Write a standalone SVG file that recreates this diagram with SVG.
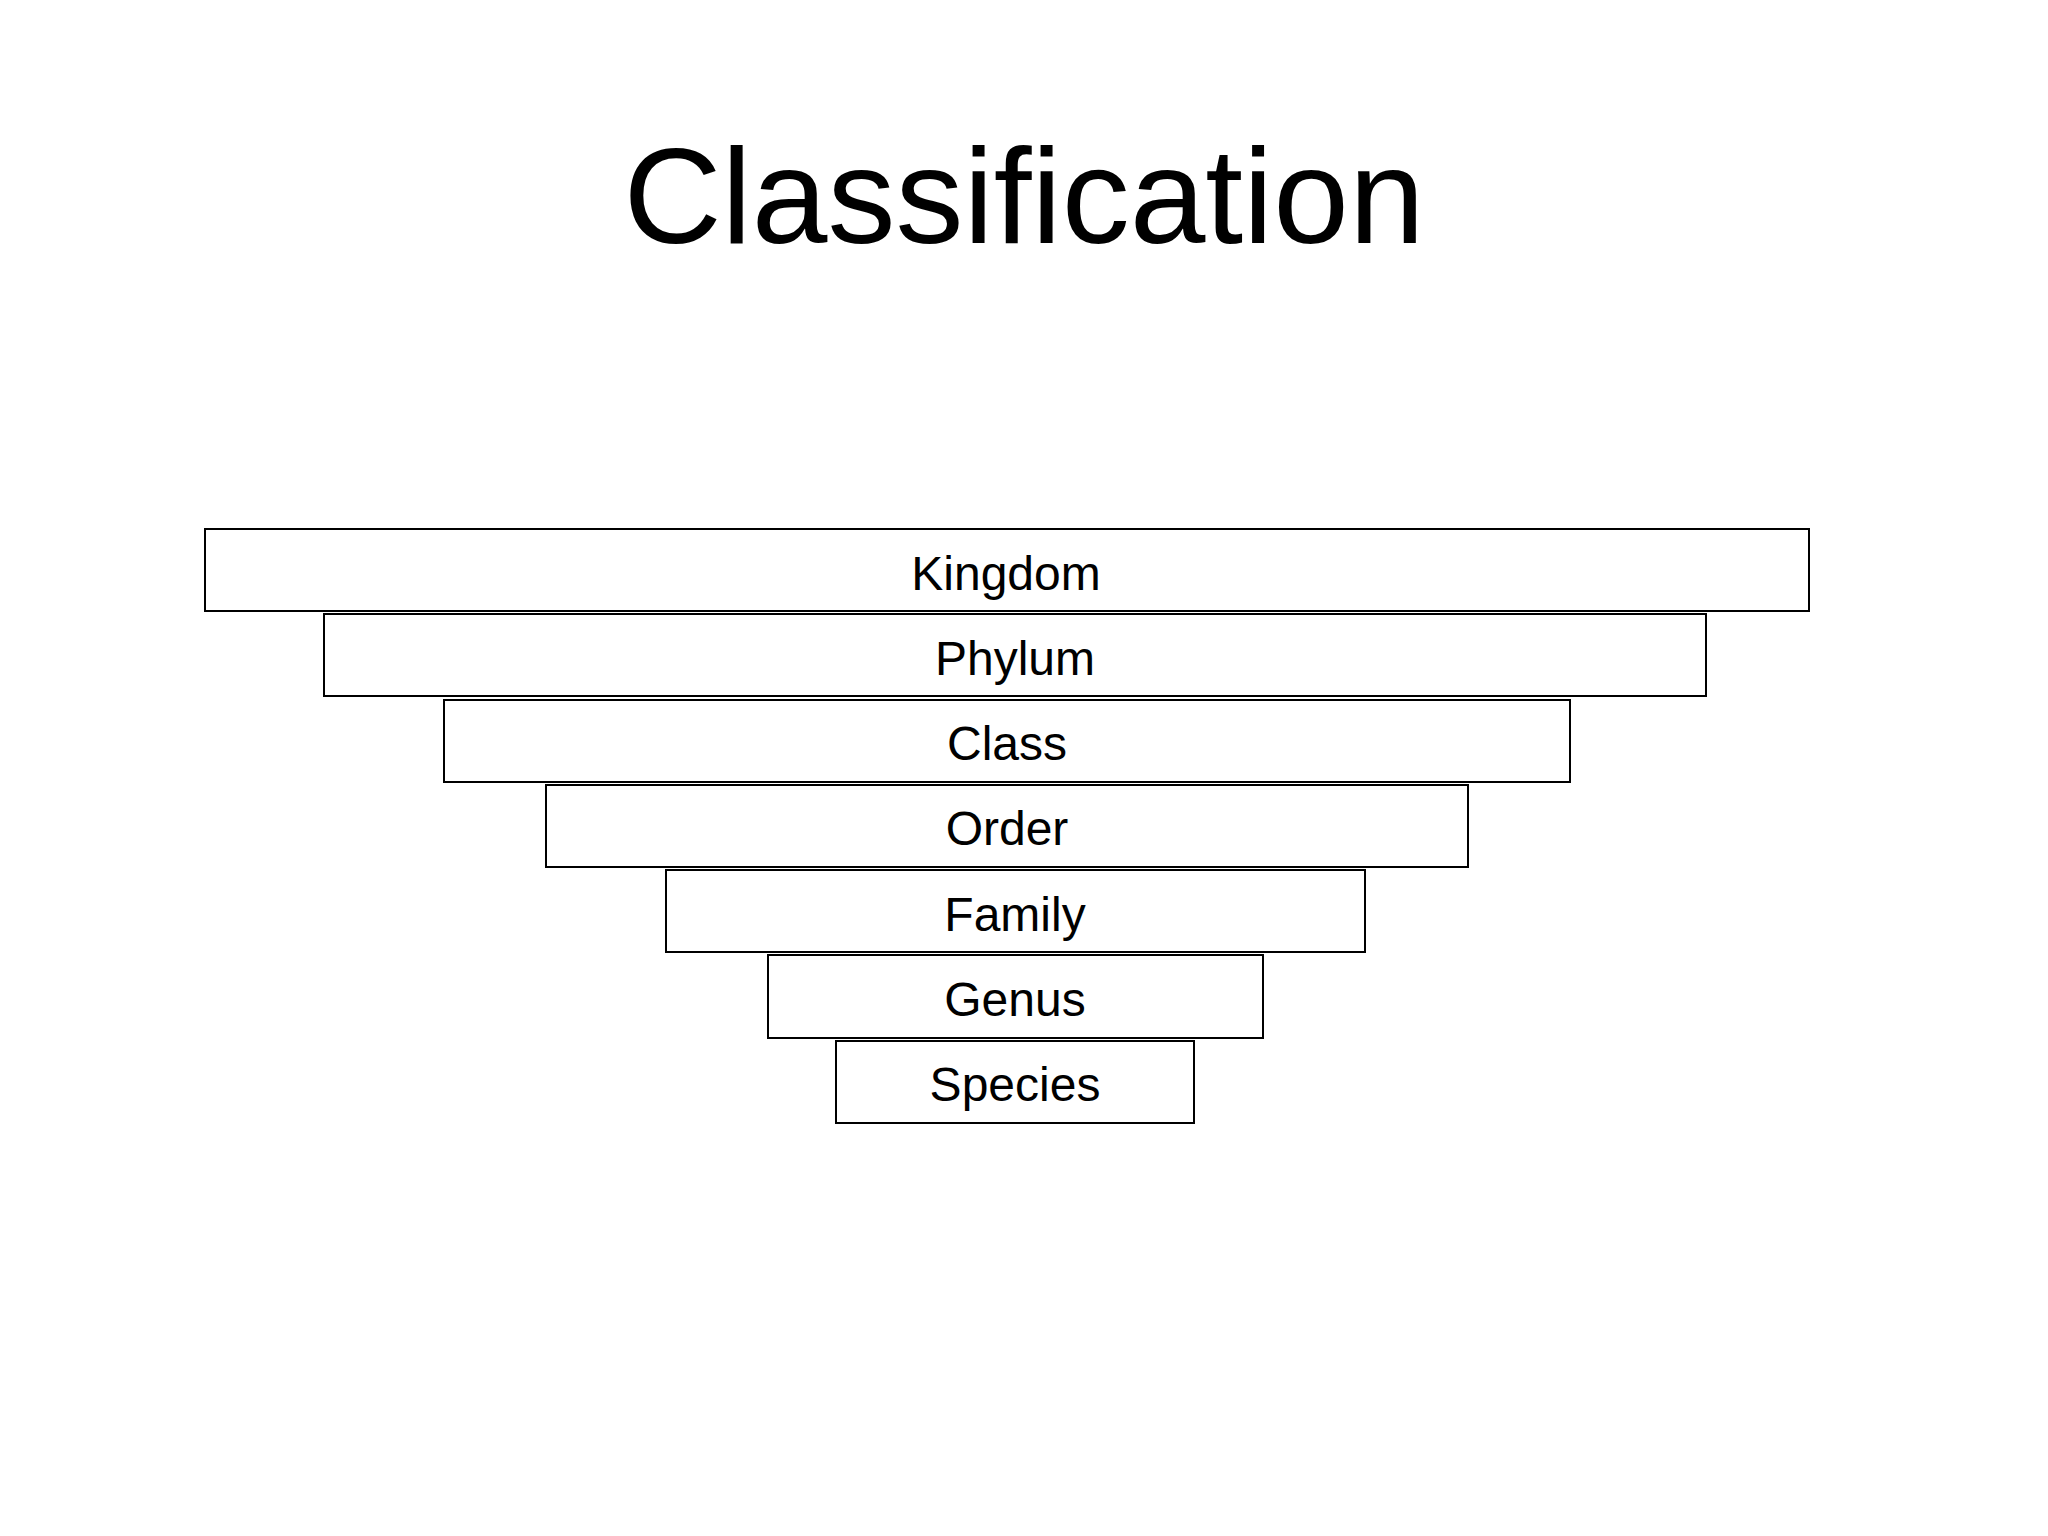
<svg xmlns="http://www.w3.org/2000/svg" width="2048" height="1536" viewBox="0 0 2048 1536">
<style>
rect{fill:#fff;stroke:#000;stroke-width:2}
text{font-family:"Liberation Sans",Arial,sans-serif;text-anchor:middle;fill:#000}
.l{font-size:48px}
</style>
<rect x="0" y="0" width="2048" height="1536" style="stroke:none"/>
<text x="1024" y="243" font-size="136">Classification</text>
<g id="kingdom"><rect x="205" y="529" width="1604" height="82"/><text class="l" x="1006" y="590">Kingdom</text></g>
<g id="phylum"><rect x="324" y="614" width="1382" height="82"/><text class="l" x="1015" y="675">Phylum</text></g>
<g id="class"><rect x="444" y="700" width="1126" height="82"/><text class="l" x="1007" y="760">Class</text></g>
<g id="order"><rect x="546" y="785" width="922" height="82"/><text class="l" x="1007" y="845">Order</text></g>
<g id="family"><rect x="666" y="870" width="699" height="82"/><text class="l" x="1015" y="931">Family</text></g>
<g id="genus"><rect x="768" y="955" width="495" height="83"/><text class="l" x="1015" y="1016">Genus</text></g>
<g id="species"><rect x="836" y="1041" width="358" height="82"/><text class="l" x="1015" y="1101">Species</text></g>
<g id="connectors"/>
</svg>
